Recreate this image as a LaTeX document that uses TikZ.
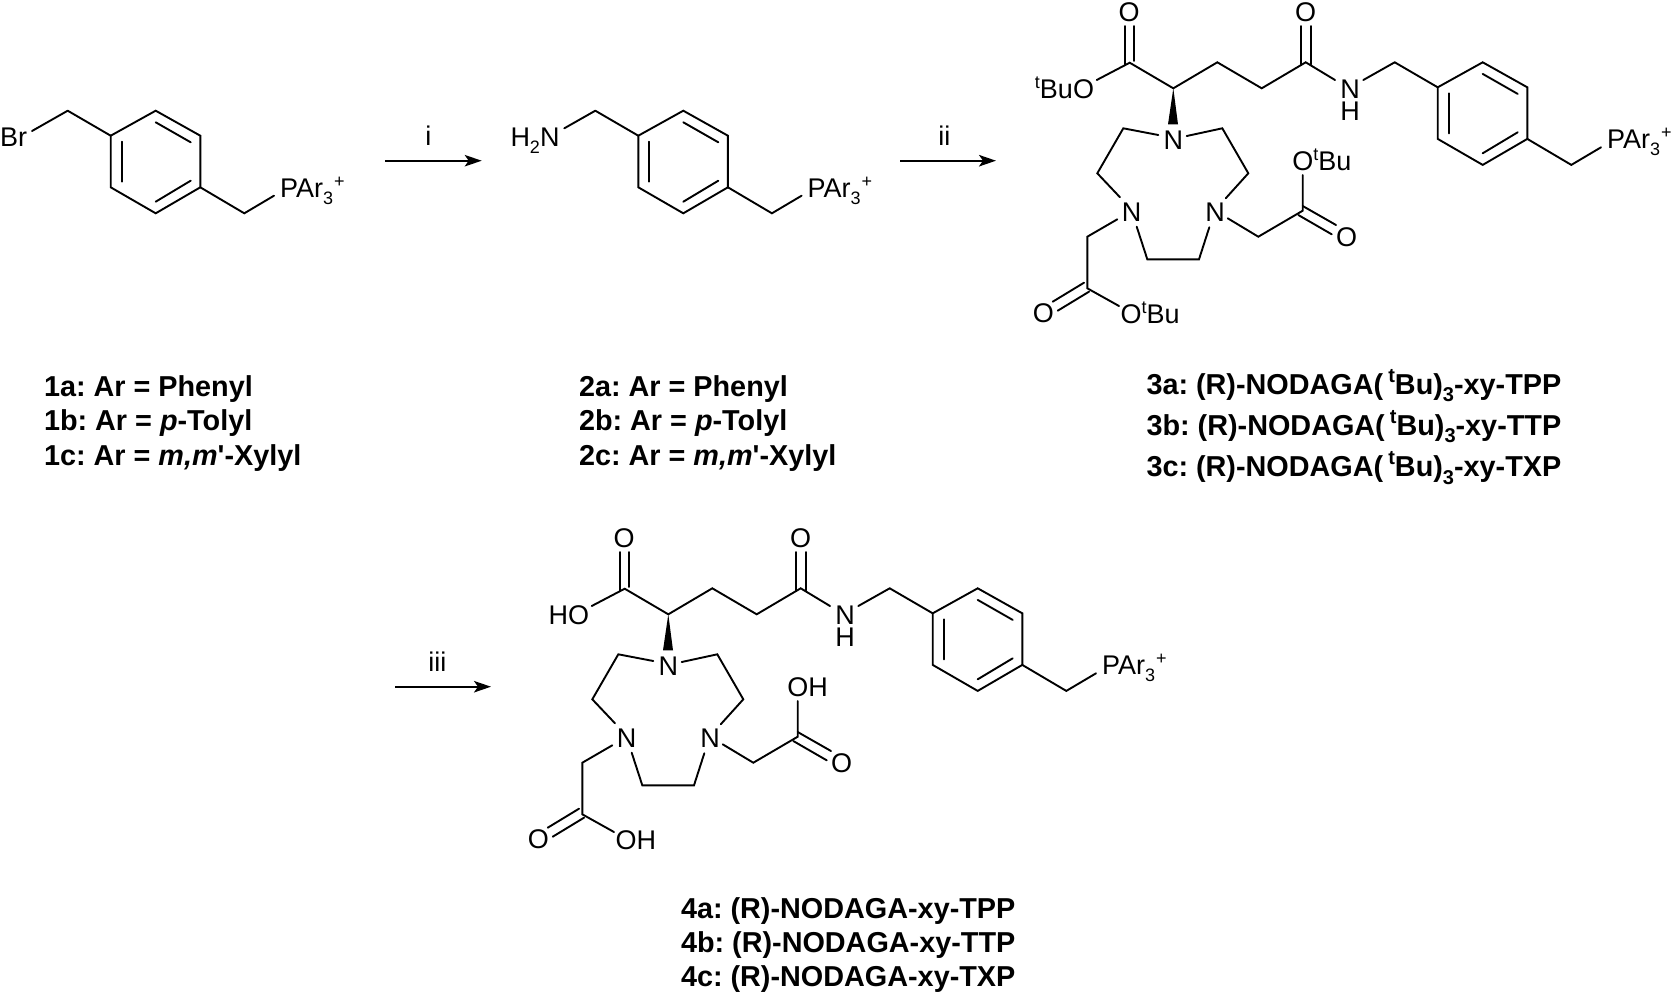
\documentclass[tikz,border=0pt]{standalone}
\usepackage{fontspec}
\newfontfamily\lab{Liberation Sans}
\usetikzlibrary{arrows.meta}
\newcommand{\sbt}[1]{\raisebox{-7pt}{\fontsize{18}{18}\selectfont #1}}
\newcommand{\spt}[1]{\raisebox{10pt}{\fontsize{18}{18}\selectfont #1}}
\newcommand{\sbb}[1]{\raisebox{-7.5pt}{\fontsize{20}{20}\selectfont #1}}
\newcommand{\spb}[1]{\raisebox{12pt}{\fontsize{20}{20}\selectfont #1}}
\tikzset{
  bond/.style={line width=1.9pt,line cap=round,line join=miter},
  rxn/.style={line width=1.9pt,-{Stealth[length=17pt,width=11.5pt,inset=4pt]}},
  atomw/.style={font=\lab\frenchspacing\fontsize{27}{30}\selectfont,inner sep=0pt,outer sep=0pt,anchor=base west},
  atome/.style={font=\lab\frenchspacing\fontsize{27}{30}\selectfont,inner sep=0pt,outer sep=0pt,anchor=base east},
  atomc/.style={font=\lab\frenchspacing\fontsize{27}{30}\selectfont,inner sep=0pt,outer sep=0pt,anchor=base},
  cpd/.style={font=\lab\bfseries\frenchspacing\fontsize{28.8}{32}\selectfont,inner sep=0pt,outer sep=0pt,anchor=base west},
}
% xylylene phosphonium fragment: #1 prefix, #2 #3 shift
\newcommand{\xyl}[3]{%
\begin{scope}[shift={(#2,#3)}]
  \coordinate (#1ch) at (67.7,110.7);
  \coordinate (#1ul) at (110.7,135.7);
  \coordinate (#1t) at (155.7,110.7);
  \coordinate (#1ur) at (200.3,135.7);
  \coordinate (#1lr) at (200.3,187.3);
  \coordinate (#1b) at (155.7,213.3);
  \coordinate (#1ll) at (110.7,187.3);
  \coordinate (#1ia) at (121.7,141.7);
  \coordinate (#1ib) at (121.7,181.7);
  \coordinate (#1ic) at (155.7,122.3);
  \coordinate (#1id) at (190.7,142.3);
  \coordinate (#1ie) at (155.7,201.7);
  \coordinate (#1if) at (190.7,180.7);
  \coordinate (#1pc) at (244.3,213.3);
  \coordinate (#1pe) at (274,195.7);
  \node[atomw] (#1par) at (280,197.3) {PAr\sbt{3}\kern1pt\spt{+}};
  \draw[bond] (#1ul) -- (#1t) -- (#1ur) -- (#1lr) -- (#1b) -- (#1ll) -- cycle;
  \draw[bond] (#1ch) -- (#1ul);
  \draw[bond] (#1ia) -- (#1ib);
  \draw[bond] (#1ic) -- (#1id);
  \draw[bond] (#1ie) -- (#1if);
  \draw[bond] (#1lr) -- (#1pc) -- (#1pe);
\end{scope}}
% macrocycle and side chains: #1 prefix, #2 #3 shift, #4 ester label, #5 right label, #6 bottom label
\newcommand{\core}[6]{%
\begin{scope}[shift={(#2,#3)}]
  \node[atomc] (#1oa) at (1129,21.7) {O};
  \node[atomc] (#1ob) at (1305.7,21.7) {O};
  \node[atome] (#1est) at (1094,98.3) {#4};
  \node[atomc] (#1nam) at (1350,98.3) {N};
  \node[atomc] (#1ham) at (1350,120.7) {H};
  \node[atomc] (#1nt) at (1173.3,149) {N};
  \node[atomc] (#1nl) at (1131.7,221) {N};
  \node[atomc] (#1nr) at (1215,221) {N};
  \node[atomw] (#1rl) at (1292.3,170.7) {#5};
  \node[atomc] (#1orr) at (1346.7,246.7) {O};
  \node[atomc] (#1obl) at (1043.3,322.7) {O};
  \node[atomw] (#1bl) at (1120.7,323.3) {#6};
  \coordinate (#1c1) at (1129.7,62.7);
  \coordinate (#1ae) at (1125,26);
  \coordinate (#1af) at (1125,64.5);
  \coordinate (#1ag) at (1134.3,26);
  \coordinate (#1ah) at (1134.3,61);
  \coordinate (#1ee) at (1096.7,80);
  \coordinate (#1st) at (1173.3,88.3);
  \coordinate (#1wl) at (1168,124.3);
  \coordinate (#1wr) at (1178,124.3);
  \coordinate (#1c2) at (1217.3,62.3);
  \coordinate (#1c3) at (1261.7,88.3);
  \coordinate (#1c4) at (1305.7,62.3);
  \coordinate (#1be) at (1301,26);
  \coordinate (#1bf) at (1301,64.5);
  \coordinate (#1bg) at (1310.7,26);
  \coordinate (#1bh) at (1310.7,64.5);
  \coordinate (#1na) at (1335,80);
  \coordinate (#1nb) at (1363.3,80);
  \coordinate (#1la) at (1158.3,135);
  \coordinate (#1lb) at (1123.3,128.3);
  \coordinate (#1lc) at (1097.3,173.3);
  \coordinate (#1ld) at (1120,197.3);
  \coordinate (#1ra) at (1186.7,136);
  \coordinate (#1rb) at (1222.3,128.3);
  \coordinate (#1rc) at (1248.3,173.3);
  \coordinate (#1rd) at (1225.7,198.3);
  \coordinate (#1ma) at (1136.7,226.7);
  \coordinate (#1mb) at (1147.3,259.3);
  \coordinate (#1mc) at (1199,259.3);
  \coordinate (#1md) at (1209.3,227.3);
  \coordinate (#1pa) at (1117.3,219.3);
  \coordinate (#1pb) at (1087.3,236.7);
  \coordinate (#1pc) at (1087.3,288.3);
  \coordinate (#1pd) at (1119,306);
  \coordinate (#1pe) at (1084,282.7);
  \coordinate (#1pf) at (1052.7,301.7);
  \coordinate (#1pg) at (1089,291.7);
  \coordinate (#1ph) at (1057.7,310.7);
  \coordinate (#1qa) at (1227.7,218.3);
  \coordinate (#1qb) at (1258.3,236.7);
  \coordinate (#1qc) at (1302.7,210.7);
  \coordinate (#1qd) at (1302.7,175);
  \coordinate (#1qe) at (1302.7,206);
  \coordinate (#1qf) at (1336,225);
  \coordinate (#1qg) at (1298.3,215);
  \coordinate (#1qh) at (1331.7,234.3);
  \draw[bond] (#1ae) -- (#1af);
  \draw[bond] (#1ag) -- (#1ah);
  \draw[bond] (#1ee) -- (#1c1) -- (#1st) -- (#1c2) -- (#1c3) -- (#1c4) -- (#1na);
  \fill (#1st) -- (#1wl) -- (#1wr) -- cycle;
  \draw[bond] (#1be) -- (#1bf);
  \draw[bond] (#1bg) -- (#1bh);
  \draw[bond] (#1la) -- (#1lb) -- (#1lc) -- (#1ld);
  \draw[bond] (#1ra) -- (#1rb) -- (#1rc) -- (#1rd);
  \draw[bond] (#1ma) -- (#1mb) -- (#1mc) -- (#1md);
  \draw[bond] (#1pa) -- (#1pb) -- (#1pc) -- (#1pd);
  \draw[bond] (#1pe) -- (#1pf);
  \draw[bond] (#1pg) -- (#1ph);
  \draw[bond] (#1qa) -- (#1qb) -- (#1qc) -- (#1qd);
  \draw[bond] (#1qe) -- (#1qf);
  \draw[bond] (#1qg) -- (#1qh);
\end{scope}}
\begin{document}
\begin{tikzpicture}[x=1pt,y=-1pt]
\fill[white] (0,0) rectangle (1677,997);
\useasboundingbox (0,0) rectangle (1677,997);
% compound 1
\xyl{a}{0}{0}
\node[atomw] (br) at (0,146.7) {Br};
\coordinate (brb) at (32,131);
\draw[bond] (brb) -- (ach);
% compound 2
\xyl{b}{527.6}{0}
\node[atome] (hn) at (559.5,146.7) {H\sbt{2}N};
\coordinate (hnb) at (564.3,128.3);
\draw[bond] (hnb) -- (bch);
% compound 3
\xyl{c}{1327}{-48.4}
\core{d}{0}{0}{\spt{t}BuO}{O\spt{t}Bu}{O\spt{t}Bu}
\draw[bond] (dnb) -- (cch);
% compound 4
\xyl{e}{822}{477.6}
\core{f}{-505}{526}{HO}{OH}{OH}
\draw[bond] (fnb) -- (ech);
% arrows
\coordinate (a1s) at (385,160.7);
\coordinate (a1e) at (481.7,160.7);
\coordinate (a2s) at (900,160.7);
\coordinate (a2e) at (996,160.7);
\coordinate (a3s) at (395,686.7);
\coordinate (a3e) at (491,686.7);
\draw[rxn] (a1s) -- (a1e);
\draw[rxn] (a2s) -- (a2e);
\draw[rxn] (a3s) -- (a3e);
\node[atomc] (ri) at (428.3,145) {i};
\node[atomc] (rii) at (944.3,145.5) {ii};
\node[atomc] (riii) at (437.3,671) {iii};
% labels
\node[cpd] (l1a) at (44,396) {1a: Ar = Phenyl};
\node[cpd] (l1b) at (44,430.7) {1b: Ar = \textit{p}-Tolyl};
\node[cpd] (l1c) at (44,465.7) {1c: Ar = \textit{m,m}'-Xylyl};
\node[cpd] (l2a) at (579,396) {2a: Ar = Phenyl};
\node[cpd] (l2b) at (579,430.7) {2b: Ar = \textit{p}-Tolyl};
\node[cpd] (l2c) at (579,465.7) {2c: Ar = \textit{m,m}'-Xylyl};
\node[cpd] (l3a) at (1146.5,394) {3a: (R)-NODAGA(\kern5pt\spb{t}Bu)\sbb{3}-xy-TPP};
\node[cpd] (l3b) at (1146.5,435) {3b: (R)-NODAGA(\kern5pt\spb{t}Bu)\sbb{3}-xy-TTP};
\node[cpd] (l3c) at (1146.5,476.5) {3c: (R)-NODAGA(\kern5pt\spb{t}Bu)\sbb{3}-xy-TXP};
\node[cpd] (l4a) at (681,918.3) {4a: (R)-NODAGA-xy-TPP};
\node[cpd] (l4b) at (681,952.7) {4b: (R)-NODAGA-xy-TTP};
\node[cpd] (l4c) at (681,986.7) {4c: (R)-NODAGA-xy-TXP};
\end{tikzpicture}
\end{document}
